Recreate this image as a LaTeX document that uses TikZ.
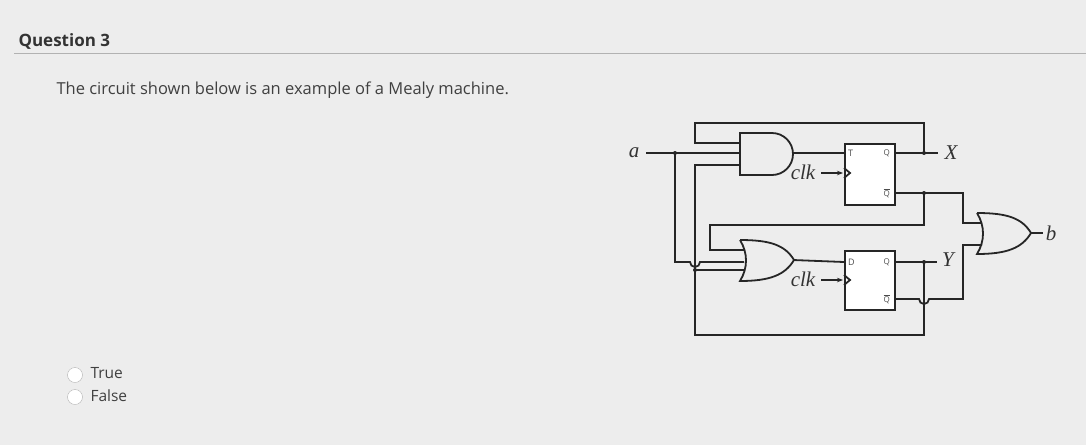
\documentclass[tikz,border=0pt]{standalone}
\usepackage{fontspec}
\usetikzlibrary{arrows.meta}
\setmainfont{Open Sans}
\newfontfamily\serifit{Liberation Serif}
\begin{document}
\begin{tikzpicture}[x=1pt,y=-1pt,
  w/.style={line width=1.8pt,black!85},
  ff/.style={draw=black!85,line width=1.8pt,fill=white},
  lab/.style={font=\serifit\itshape\fontsize{21}{21}\selectfont,text=black!80,inner sep=1pt},
  tiny/.style={font=\fontsize{8}{8}\selectfont,text=black!70,inner sep=0pt}]
\fill[gray!14] (0,0) rectangle (1086,445);
\useasboundingbox (0,0) rectangle (1086,445);
\node[anchor=west,font=\fontsize{17}{17}\selectfont\bfseries,text=black!80] (q) at (15,41) {Question 3};
\draw[gray!60] (14,53) -- (1086,53);
\node[anchor=west,font=\fontsize{16.5}{17}\selectfont,text=black!75] (t) at (53,90) {The circuit shown below is an example of a Mealy machine.};
\draw[gray!60,fill=white] (75,375) circle (7.5);
\draw[gray!60,fill=white] (75,397) circle (7.5);
\node[anchor=west,font=\fontsize{15.5}{16}\selectfont,text=black!75] at (87,373) {True};
\node[anchor=west,font=\fontsize{15.5}{16}\selectfont,text=black!75] at (87,396) {False};
% gates
\draw[w] (740,133) -- (772,133) arc (-90:90:21) -- (740,175) -- cycle;
\draw[w] (740,240) .. controls (770,240) and (785,245) .. (794,260) .. controls (785,275) and (770,281) .. (740,281) .. controls (748,268) and (748,253) .. (740,240);
\draw[w] (977,213) .. controls (1007,213) and (1022,218) .. (1031,233) .. controls (1022,248) and (1007,254) .. (977,254) .. controls (985,241) and (985,226) .. (977,213);
% flip-flops
\node[ff,minimum width=50pt,minimum height=61pt,anchor=north west] (T) at (844,143) {};
\node[ff,minimum width=50pt,minimum height=59pt,anchor=north west] (D) at (844,250) {};
\node[tiny,anchor=west] at (848,153) {\fontsize{9}{9}\selectfont T};
\node[tiny,anchor=east] at (890,153) {Q};
\node[tiny,anchor=east] at (890,193) {$\overline{\mathrm{Q}}$};
\node[tiny,anchor=west] at (848,262) {\fontsize{9}{9}\selectfont D};
\node[tiny,anchor=east] at (890,262) {Q};
\node[tiny,anchor=east] at (890,299) {$\overline{\mathrm{Q}}$};
\draw[w] (844,168) -- (850,173) -- (844,178);
\draw[w] (844,275) -- (850,280) -- (844,285);
\node[lab] (c1) at (803,172) {clk};
\node[lab] (c2) at (803,279) {clk};
\draw[w,-{Stealth[length=6pt]}] (821,173) -- (843,173);
\draw[w,-{Stealth[length=6pt]}] (821,280) -- (843,280);
% labels
\node[lab] (a) at (634,153) {a};
\node[lab] (X) at (951,153) {X};
\node[lab] (Y) at (948,260) {Y};
\node[lab] (b) at (1051,233) {b};
% wires
\draw[w] (646,153) -- (740,153);
\draw[w] (793,153) -- (844,153);
\draw[w] (894,153) -- (938,153);
\draw[w] (924,153) -- (924,123) -- (695,123) -- (695,143) -- (740,143);
\draw[w] (740,165) -- (695,165) -- (695,335) -- (924,335) -- (924,262);
\draw[w] (675,153) -- (675,262) -- (690,262) arc (180:0:5) -- (744,262);
\draw[w] (744,270) -- (695,270);
\draw[w] (894,193) -- (963,193) -- (963,223) -- (982,223);
\draw[w] (924,193) -- (924,225) -- (710,225) -- (710,250) -- (744,250);
\draw[w] (793,260) -- (844,262);
\draw[w] (894,262) -- (937,262);
\draw[w] (894,299) -- (919,299) arc (180:0:5) -- (963,299) -- (963,245) -- (982,245);
\draw[w] (1031,233) -- (1043,233);
\fill[black!85] (675,153) circle (2) (924,153) circle (2) (924,193) circle (2) (924,262) circle (2) (695,270) circle (2);
\end{tikzpicture}
\end{document}
